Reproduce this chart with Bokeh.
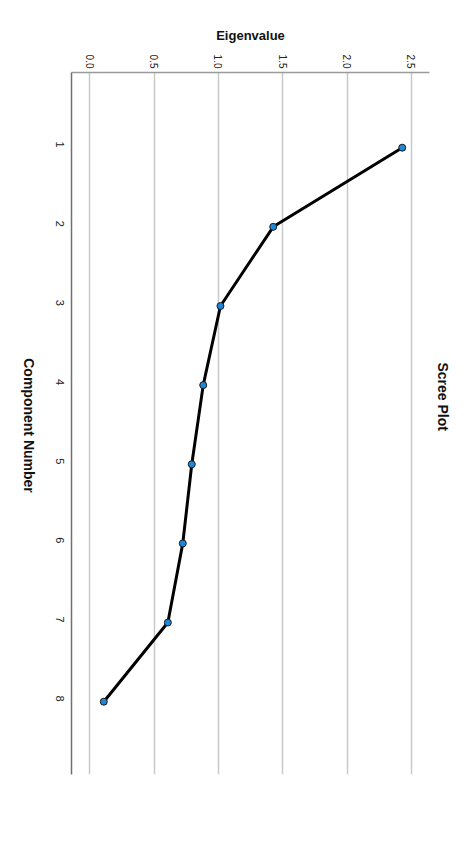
import math
from bokeh.plotting import figure
from bokeh.models import (Range1d, FixedTicker, LinearAxis, Title, ColumnDataSource,
                          NumeralTickFormatter, Grid, Label)
from bokeh.embed import file_html
from bokeh.resources import INLINE

components = [1, 2, 3, 4, 5, 6, 7, 8]
eigenvalues = [2.429, 1.426, 1.016, 0.882, 0.793, 0.723, 0.607, 0.109]
eig_ticks = [0.0, 0.5, 1.0, 1.5, 2.0, 2.5]

src = ColumnDataSource(dict(x=eigenvalues, y=components))

p = figure(width=458, height=826, output_backend="svg", toolbar_location=None,
           x_range=Range1d(-0.142, 2.641), y_range=Range1d(8.92, 0.05),
           x_axis_location=None, y_axis_location=None,
           min_border_left=71, min_border_top=72, min_border_right=29, min_border_bottom=52)
p.outline_line_color = None
p.background_fill_color = "white"
p.border_fill_color = "white"

xaxis = LinearAxis(ticker=FixedTicker(ticks=eig_ticks))
xaxis.formatter = NumeralTickFormatter(format="0.0")
xaxis.major_label_orientation = -math.pi / 2
xaxis.major_tick_line_color = None
xaxis.minor_tick_line_color = None
xaxis.major_tick_out = 0
xaxis.major_label_standoff = 4
xaxis.axis_line_color = "#9a9a9a"
xaxis.axis_line_width = 1.5
xaxis.major_label_text_font = "Liberation Sans"
xaxis.major_label_text_font_size = "10px"
xaxis.major_label_text_color = "#222222"
xaxis.axis_label = "Eigenvalue"
xaxis.axis_label_text_font = "Liberation Sans"
xaxis.axis_label_text_font_style = "bold"
xaxis.axis_label_text_font_size = "13px"
xaxis.axis_label_text_color = "#111111"
xaxis.axis_label_standoff = 9
p.add_layout(xaxis, "above")

yaxis = LinearAxis(ticker=FixedTicker(ticks=components))
yaxis.major_label_orientation = -math.pi / 2
yaxis.major_tick_line_color = None
yaxis.minor_tick_line_color = None
yaxis.major_tick_out = 0
yaxis.major_label_standoff = 12
yaxis.axis_line_color = "#707070"
yaxis.axis_line_width = 1.5
yaxis.major_label_text_font = "Liberation Sans"
yaxis.major_label_text_font_size = "11px"
yaxis.major_label_text_color = "#222222"
p.add_layout(yaxis, "left")

p.add_layout(Label(text="Component Number", x=-4, y=349, x_units="screen", y_units="screen",
                   angle=-math.pi / 2, text_align="center", text_baseline="middle",
                   text_font="Liberation Sans", text_font_style="bold",
                   text_font_size="14px", text_color="#111111"), "left")

p.xgrid.visible = False
p.ygrid.visible = False
g = Grid(dimension=0, ticker=xaxis.ticker, grid_line_color="#c8c8c8", grid_line_width=1.5)
p.add_layout(g)

p.add_layout(Title(text="Scree Plot", text_font="Liberation Sans", text_font_style="bold",
                   text_font_size="14px", text_color="#111111", align="left", offset=290), "right")

p.line("x", "y", source=src, line_color="black", line_width=3)
p.scatter("x", "y", source=src, size=7, fill_color="#1f87d8", line_color="#1a1a1a", line_width=1)

open("out.html", "w").write(file_html(p, INLINE))
